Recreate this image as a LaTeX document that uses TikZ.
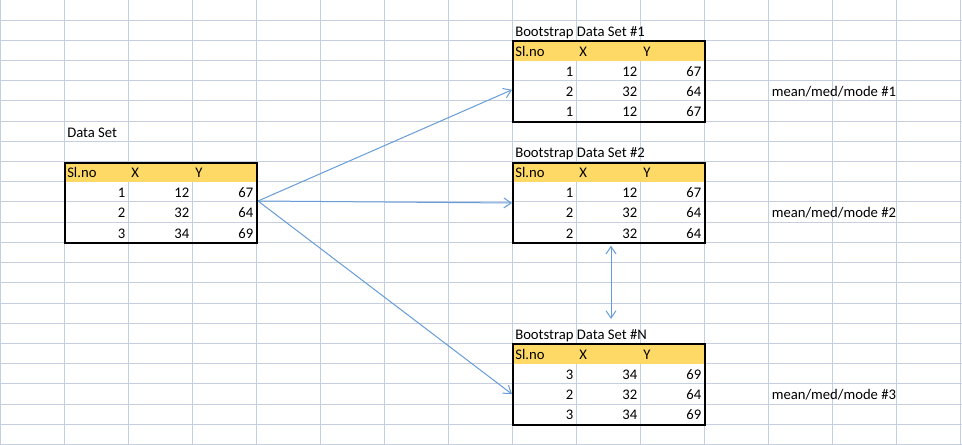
\documentclass[tikz,border=0pt]{standalone}
\usepackage{fontspec}
\setmainfont{Carlito}
\usepackage{tikz}
\usetikzlibrary{positioning,calc,arrows.meta}

\definecolor{gridline}{RGB}{198,206,226}
\definecolor{headfill}{RGB}{255,217,102}
\definecolor{linkblue}{RGB}{102,156,216}

% #1 name, #2 left x, #3 title row, #4 header row, #5 title, #6 rows
\newcommand{\drawtable}[6]{
  \node (#1t) [cell] at ({#2+3},{20.2*#3-4.3}) {#5};
  \fill[headfill] ({#2},{20.2*(#4-1)}) rectangle ({#2+192},{20.2*#4});
  \node (#1) [tabbox] at ({#2},{20.2*(#4-1)}) {};
  \node (#1h1) [cell] at ({#2+3},{20.2*#4-4.3}) {Sl.no};
  \node (#1h2) [cell] at ({#2+67},{20.2*#4-4.3}) {X};
  \node (#1h3) [cell] at ({#2+131},{20.2*#4-4.3}) {Y};
  \foreach \sn/\xv/\yv [count=\i] in {#6} {
    \node (#1-\i-1) [num] at ({#2+61.5},{20.2*(#4+\i)-4.3}) {\sn};
    \node (#1-\i-2) [num] at ({#2+125.5},{20.2*(#4+\i)-4.3}) {\xv};
    \node (#1-\i-3) [num] at ({#2+189.5},{20.2*(#4+\i)-4.3}) {\yv};
  }
}

\begin{document}
\begin{tikzpicture}[x=0.75pt,y=-0.75pt,
  every node/.style={inner sep=0pt,font=\fontsize{11}{13.2}\selectfont},
  cell/.style={anchor=base west},
  num/.style={anchor=base east},
  tabbox/.style={draw=black,line width=1.5pt,anchor=north west,
    minimum width=144pt,minimum height=60.6pt},
  link/.style={draw=linkblue,line width=0.75pt,->,
    >={Straight Barb[length=5.5pt,width=7.5pt]}}]
  \useasboundingbox (0,0) rectangle (962,445);
  \fill[white] (0,0) rectangle (962,445);
  % sheet grid
  \foreach \gx in {0,64,...,960}
    \draw[gridline,line width=0.75pt] (\gx,0) -- (\gx,445);
  \foreach \gy in {1,...,22}
    \draw[gridline,line width=0.75pt] (0,{20.2*\gy}) -- (962,{20.2*\gy});

  % tables
  \drawtable{ds}{64}{7}{9}{Data Set}{1/12/67,2/32/64,3/34/69}
  \drawtable{bsa}{512}{2}{3}{Bootstrap Data Set \#1}{1/12/67,2/32/64,1/12/67}
  \drawtable{bsb}{512}{8}{9}{Bootstrap Data Set \#2}{1/12/67,2/32/64,2/32/64}
  \drawtable{bsn}{512}{17}{18}{Bootstrap Data Set \#N}{3/34/69,2/32/64,3/34/69}

  % statistics
  \node (ma) [cell] at (771.5,{20.2*5-4.3}) {mean/med/mode \#1};
  \node (mb) [cell] at (771.5,{20.2*11-4.3}) {mean/med/mode \#2};
  \node (mc) [cell] at (771.5,{20.2*20-4.3}) {mean/med/mode \#3};

  % resampling
  \draw[link] ([yshift=1.5pt]ds.east) -- ([yshift=-6pt]bsa.west);
  \draw[link] ([yshift=1.5pt]ds.east) -- (bsb.west);
  \draw[link] ([yshift=1.5pt]ds.east) -- ([yshift=-7pt]bsn.west);
  \coordinate (vtop) at ([xshift=1.5pt]bsb.south);
  \coordinate (vbot) at (vtop |- bsnt.north);
  \draw[link,<->,shorten <=1pt,shorten >=7.5pt] (vtop) -- (vbot);
\end{tikzpicture}
\end{document}
